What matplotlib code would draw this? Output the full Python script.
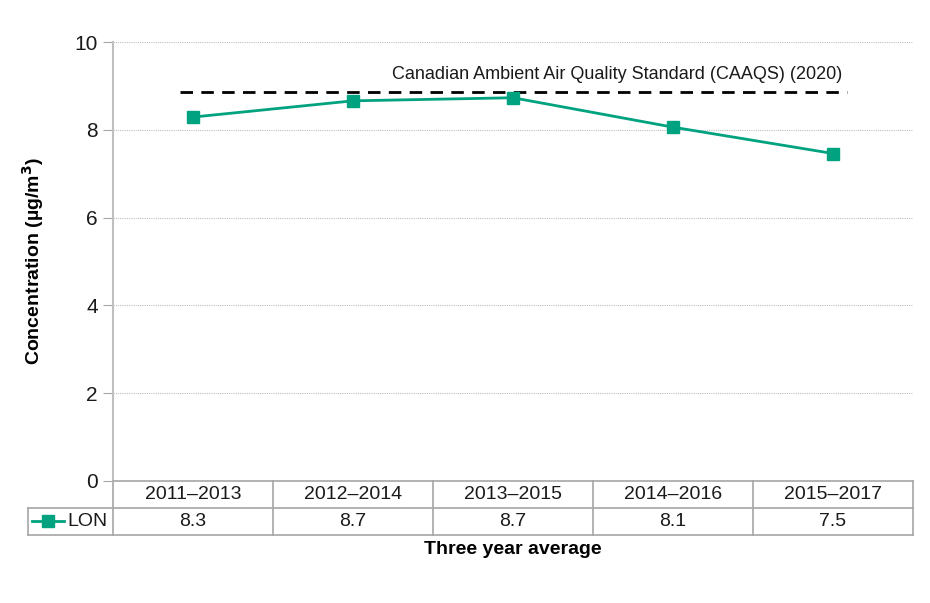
import matplotlib.pyplot as plt
import matplotlib.transforms as mtransforms
from matplotlib.lines import Line2D

plt.rcParams["font.family"] = ["Liberation Sans", "DejaVu Sans"]

# Data
periods = ["2011\u20132013", "2012\u20132014", "2013\u20132015", "2014\u20132016", "2015\u20132017"]
lon_values = [8.29, 8.66, 8.73, 8.06, 7.46]
lon_labels = ["8.3", "8.7", "8.7", "8.1", "7.5"]
caaqs_2020 = 8.86
caaqs_span = [-0.08, 4.09]

green = "#00A27F"
grid_gray = "#A6A6A6"
txt = "#1a1a1a"

fig = plt.figure(figsize=(9.3, 6.03), dpi=100)
ax = fig.add_axes([113 / 930, 1 - 481 / 603, 800 / 930, 439 / 603])

x = list(range(len(periods)))
ax.plot(x, lon_values, color=green, linewidth=2, marker="s", markersize=9,
        markerfacecolor=green, markeredgecolor=green, zorder=3)
ax.plot(caaqs_span, [caaqs_2020, caaqs_2020], color="black", linewidth=2,
        linestyle=(0, (4.5, 3)), zorder=2)
ax.text(caaqs_span[1] - 0.03, caaqs_2020 + 0.2,
        "Canadian Ambient Air Quality Standard (CAAQS) (2020)",
        ha="right", va="bottom", fontsize=13.0, color=txt)

ax.set_xlim(-0.5, len(periods) - 0.5)
ax.set_ylim(0, 10)
ax.set_yticks([0, 2, 4, 6, 8, 10])
ax.tick_params(axis="y", labelsize=15, length=7, color=grid_gray, pad=4,
               labelcolor=txt)
ax.set_xticks([])
ax.grid(axis="y", color="#BFBFBF", linestyle=(0, (1, 1)), linewidth=0.8)
ax.set_axisbelow(True)
for side in ["top", "right"]:
    ax.spines[side].set_visible(False)
ax.spines["left"].set_color("#BFBFBF")
ax.spines["left"].set_linewidth(1.5)
ax.spines["bottom"].set_color(grid_gray)
ax.spines["bottom"].set_linewidth(1.2)

ax.set_ylabel("Concentration (\u00b5g/m$^{\\mathbf{3}}$)", fontsize=14,
              fontweight="bold")
ax.yaxis.set_label_coords((46 - 113) / 800, 0.5)

# Data table below the axis (rows in axes fraction)
row_h = 27 / 439
trans = mtransforms.blended_transform_factory(ax.transData, ax.transAxes)
left_x = -0.5 - 85 / 160
line_kw = dict(color=grid_gray, linewidth=1.2, transform=trans, clip_on=False)

for b in [i - 0.5 for i in range(len(periods) + 1)]:
    ax.add_line(Line2D([b, b], [0, -2 * row_h], **line_kw))
ax.add_line(Line2D([left_x, left_x], [-row_h, -2 * row_h], **line_kw))
ax.add_line(Line2D([left_x, len(periods) - 0.5], [-row_h, -row_h], **line_kw))
ax.add_line(Line2D([left_x, len(periods) - 0.5], [-2 * row_h, -2 * row_h], **line_kw))

for i, (p, v) in enumerate(zip(periods, lon_labels)):
    ax.text(i, -0.5 * row_h, p, transform=trans, ha="center", va="center",
            fontsize=14, color=txt)
    ax.text(i, -1.5 * row_h, v, transform=trans, ha="center", va="center",
            fontsize=14, color=txt)

# legend key inside the table
key_y = 1 - 521 / 603
fig.add_artist(Line2D([32 / 930, 64 / 930], [key_y, key_y], color=green,
                      linewidth=2, transform=fig.transFigure))
fig.add_artist(Line2D([48 / 930], [key_y], color=green, marker="s",
                      markersize=9, linestyle="none", transform=fig.transFigure))
fig.text(67 / 930, key_y, "LON", ha="left", va="center", fontsize=14, color=txt)

fig.text(513 / 930, 1 - 549 / 603, "Three year average", ha="center",
         va="center", fontsize=14, fontweight="bold")

fig.savefig("out.png", dpi=100)
